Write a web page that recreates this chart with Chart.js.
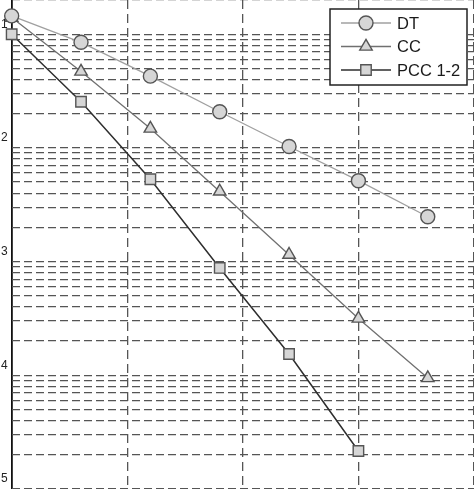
<!DOCTYPE html>
<html>
<head>
<meta charset="utf-8">
<script src="https://cdn.jsdelivr.net/npm/chart.js@4.4.0/dist/chart.umd.min.js"></script>
<style>
  html, body { margin: 0; padding: 0; background: #fff; overflow: hidden; }
  #clip { position: relative; width: 474px; height: 489px; overflow: hidden; }
  #wrap { position: absolute; left: -3px; top: 0; width: 477px; height: 489px; }
</style>
</head>
<body>
<div id="clip"><div id="wrap"><canvas id="chart"></canvas></div></div>
<script>
  // x positions of the samples
  const xValues = [0, 3, 6, 9, 12, 15, 18];

  // series values
  const dtValues = [0.145, 0.0849, 0.0428, 0.0208, 0.0103, 0.00515, 0.00248];
  const ccValues = [0.14, 0.047, 0.0148, 0.00414, 0.00115, 0.000316, 0.0000946];
  const pccValues = [0.1, 0.0255, 0.0053, 0.00088, 0.000154, 0.0000216];

  const seriesNames = ['DT', 'CC', 'PCC 1-2'];

  // y axis: decades and the (cropped) labels shown beside them
  const yMin = 1e-5;
  const yMax = 0.2;
  const yDecades = [1e-1, 1e-2, 1e-3, 1e-4, 1e-5];
  const yDecadeLabels = ['1', '2', '3', '4', '5'];

  // x axis grid
  const xMin = 0;
  const xMax = 20;
  const xStep = 5;

  function toPoints(values) {
    return values.map((v, i) => ({ x: xValues[i], y: v }));
  }

  const styles = [
    { line: '#a0a0a0', point: 'circle', radius: 7, width: 1.3 },
    { line: '#707070', point: 'triangle', radius: 7.2, width: 1.3 },
    { line: '#2e2e2e', point: 'rect', radius: 7.4, width: 1.5 }
  ];

  const datasets = [dtValues, ccValues, pccValues].map((vals, i) => ({
    label: seriesNames[i],
    data: toPoints(vals),
    borderColor: styles[i].line,
    borderWidth: styles[i].width,
    pointStyle: styles[i].point,
    pointRadius: styles[i].radius,
    pointBackgroundColor: '#d6d6d6',
    pointBorderColor: '#555555',
    pointBorderWidth: 1.4,
    tension: 0,
    clip: false
  }));

  // boxed legend drawn inside the plot, top right
  const boxLegend = {
    id: 'boxLegend',
    afterDraw(chart) {
      const ctx = chart.ctx;
      const area = chart.chartArea;
      const bx = area.right - 144, by = area.top + 9, bw = 137, bh = 76;
      ctx.save();
      ctx.fillStyle = '#ffffff';
      ctx.fillRect(bx, by, bw, bh);
      ctx.strokeStyle = '#222222';
      ctx.lineWidth = 1.5;
      ctx.strokeRect(bx, by, bw, bh);
      ctx.font = '16.5px "Liberation Sans", Arial, sans-serif';
      ctx.textBaseline = 'middle';
      chart.data.datasets.forEach((ds, i) => {
        const y = by + 14 + i * 23.5;
        ctx.strokeStyle = ds.borderColor;
        ctx.lineWidth = 1.3;
        ctx.beginPath();
        ctx.moveTo(bx + 11, y);
        ctx.lineTo(bx + 61, y);
        ctx.stroke();
        ctx.fillStyle = ds.pointBackgroundColor;
        ctx.strokeStyle = ds.pointBorderColor;
        ctx.lineWidth = ds.pointBorderWidth;
        Chart.helpers.drawPoint(ctx, {
          pointStyle: ds.pointStyle,
          radius: ds.pointRadius,
          borderWidth: ds.pointBorderWidth
        }, bx + 36, y);
        ctx.fillStyle = '#1a1a1a';
        ctx.fillText(ds.label, bx + 67, y + 1);
      });
      ctx.restore();
    }
  };

  const isAxisLine = (c) => c.tick && c.tick.value === xMin;

  const ctx = document.getElementById('chart').getContext('2d');
  new Chart(ctx, {
    type: 'line',
    data: { datasets },
    plugins: [boxLegend],
    options: {
      responsive: true,
      maintainAspectRatio: false,
      animation: false,
      layout: { padding: 0, autoPadding: false },
      plugins: {
        legend: { display: false },
        tooltip: { enabled: false }
      },
      scales: {
        x: {
          type: 'linear',
          min: xMin,
          max: xMax,
          ticks: { display: false, stepSize: xStep },
          grid: {
            drawTicks: false,
            color: (c) => (isAxisLine(c) ? '#111111' : '#555555'),
            lineWidth: (c) => (isAxisLine(c) ? 1.8 : 1.3)
          },
          border: {
            display: false,
            dash: (c) => (isAxisLine(c) ? [] : [9, 5])
          }
        },
        y: {
          type: 'logarithmic',
          min: yMin,
          max: yMax,
          afterBuildTicks(scale) {
            const ticks = [];
            for (let e = -5; e <= 0; e++) {
              for (let m = 1; m <= 9; m++) {
                const v = m * Math.pow(10, e);
                if (v >= yMin * 0.9999 && v <= yMax * 1.0001) ticks.push({ value: v });
              }
            }
            scale.ticks = ticks;
          },
          afterFit(scale) {
            scale.paddingTop = 0;
            scale.paddingBottom = 0;
          },
          ticks: {
            autoSkip: false,
            padding: 4,
            labelOffset: -10,
            color: '#222222',
            font: { family: '"Liberation Sans", Arial, sans-serif', size: 12 },
            callback: (value) => {
              const idx = yDecades.findIndex(d => Math.abs(value - d) / d < 1e-6);
              return idx >= 0 ? yDecadeLabels[idx] : '';
            }
          },
          grid: {
            drawTicks: false,
            color: '#555555',
            lineWidth: 1.3
          },
          border: { display: false, dash: () => [8, 4] }
        }
      }
    }
  });
</script>
</body>
</html>
